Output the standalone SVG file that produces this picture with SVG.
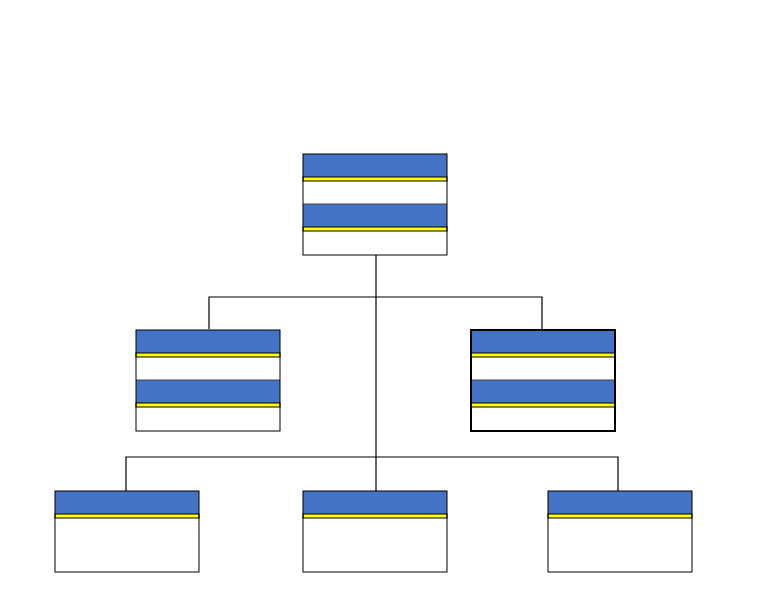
<svg xmlns="http://www.w3.org/2000/svg" width="768" height="594" viewBox="0 0 768 594">
<style>
.b{fill:#4472c4}.y{fill:#ffff00;stroke:#000;stroke-width:1}.f{fill:none;stroke:#000;stroke-width:1}
.c{fill:none;stroke:#000;stroke-width:1.2}
</style>
<defs>
<g id="two">
<rect width="144" height="101" fill="#fff"/>
<rect class="b" width="144" height="23"/>
<rect class="y" y="23" width="144" height="4"/>
<rect class="b" y="50" width="144" height="23"/>
<rect class="y" y="73" width="144" height="4"/>
<line x1="0" y1="50" x2="144" y2="50" stroke="#444" stroke-width="1"/>
<rect class="f" width="144" height="101"/>
</g>
<g id="one">
<rect width="144" height="81" fill="#fff"/>
<rect class="b" width="144" height="23"/>
<rect class="y" y="23" width="144" height="4"/>
<rect class="f" width="144" height="81"/>
</g>
</defs>
<g id="connectors">
<path class="c" d="M376 255V491M209 329V297H542V329"/>
<path class="c" stroke-width="2" d="M126 491V457H618V491"/>
</g>
<g id="n1"><use href="#two" x="303" y="154"/></g>
<g id="n2"><use href="#two" x="136" y="330"/></g>
<g id="n3"><use href="#two" x="471" y="330" style="stroke-width:2"/><rect x="471" y="330" width="144" height="101" fill="none" stroke="#000" stroke-width="2"/></g>
<g id="n4"><use href="#one" x="55" y="491"/></g>
<g id="n5"><use href="#one" x="303" y="491"/></g>
<g id="n6"><use href="#one" x="548" y="491"/></g>
</svg>
